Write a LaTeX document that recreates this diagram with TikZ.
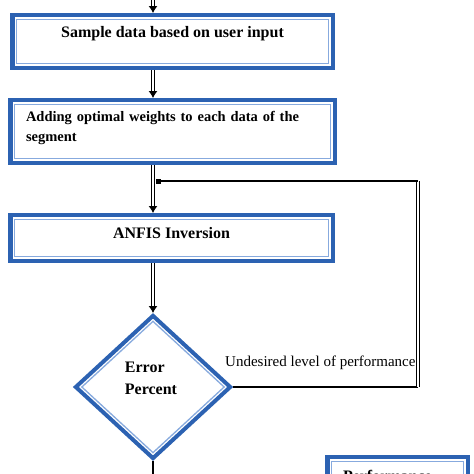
\documentclass[tikz,border=0pt]{standalone}
\usepackage{fontspec}
\setmainfont{Liberation Serif}
\usetikzlibrary{arrows.meta,shapes.geometric,calc}
\definecolor{boxblue}{RGB}{44,98,178}
\definecolor{innerblue}{RGB}{135,170,222}
\begin{document}
\begin{tikzpicture}[x=1pt,y=-1pt,
  box/.style={draw=boxblue, line width=4pt, fill=white, inner sep=0pt,
    font=\fontsize{16}{20}\selectfont\bfseries,
    path picture={\draw[innerblue,line width=1.3pt]
      ([shift={(4.5pt,-4.5pt)}]path picture bounding box.north west) rectangle
      ([shift={(-4.5pt,4.5pt)}]path picture bounding box.south east);
      \fill[boxblue] (path picture bounding box.north west) rectangle
      ([shift={(3.2pt,0pt)}]path picture bounding box.south west);}},
  dia/.style={diamond, draw=boxblue, line width=4pt, fill=white, inner sep=0pt,
    minimum width=156pt, minimum height=144pt},
  diain/.style={diamond, draw=innerblue, line width=1.3pt, inner sep=0pt,
    minimum width=142.8pt, minimum height=131.8pt},
  dtext/.style={align=left, font=\fontsize{16}{22}\selectfont\bfseries, inner sep=0pt},
  lbl/.style={font=\fontsize{15}{18}\selectfont, inner sep=0pt},
  dblplain/.style={draw=black, double=white, line width=0.9pt, double distance=1.6pt},
  tip/.style={draw=black, line width=1pt, -{Latex[length=7pt,width=9pt]}},
  fbline/.style={draw=black, line width=1.1pt},
  botline/.style={draw=black, line width=2.6pt}
]
\clip (0,0) rectangle (474,474);
\fill[white] (0,0) rectangle (474,474);

\node[box, minimum width=321pt, minimum height=53pt, text depth=19pt] (b1) at (172.5,41.5) {Sample data based on user input};
\node[box, minimum width=325pt, minimum height=63pt, text width=293pt, align=left,
  font=\fontsize{14.5}{20}\selectfont\bfseries, text depth=29.5pt] (b2) at (172.5,131.5) {Adding optimal weights to each data of the\\segment};
\node[box, minimum width=323pt, minimum height=46pt, text depth=11pt] (b3) at (171.5,238) {ANFIS Inversion};
\node[dia] (d) at (153,387) {};
\node[diain] (din) at (d) {};
\node[dtext] (dt) at (151,378) {Error\\Percent};
\node[box, minimum width=141pt, minimum height=63pt, text width=109pt, align=left, text depth=26pt] (b4) at (397.5,488.5) {Performance};

\coordinate (top) at (153,0);
\coordinate (c1) at (418,387);
\coordinate (c2) at (418,181);
\coordinate (j) at (155.5,181);
\coordinate (bot) at (153,480);

\draw[dblplain] (top) -- ($(b1.north -| top)+(0,-5)$);
\draw[tip] ($(b1.north -| top)+(0,-7)$) -- (b1.north -| top);
\draw[dblplain] (b1.south -| top) -- ($(b2.north -| top)+(0,-5)$);
\draw[tip] ($(b2.north -| top)+(0,-7)$) -- (b2.north -| top);
\draw[dblplain] (b2.south -| top) -- ($(b3.north -| top)+(0,-5)$);
\draw[tip] ($(b3.north -| top)+(0,-7)$) -- (b3.north -| top);
\draw[dblplain] (b3.south -| top) -- ($(d.north)+(0,-5)$);
\draw[tip] ($(d.north)+(0,-7)$) -- (d.north);
\draw[fbline] (d.east) -- (c1);
\draw[dblplain] (c1) -- (c2);
\draw[fbline, -{Square[length=5pt,width=5pt]}] (c2) -- (j);
\draw[botline] (d.south) -- (bot);
\node[lbl, anchor=west] (ul) at (225,363) {Undesired level of performance};
\end{tikzpicture}
\end{document}
